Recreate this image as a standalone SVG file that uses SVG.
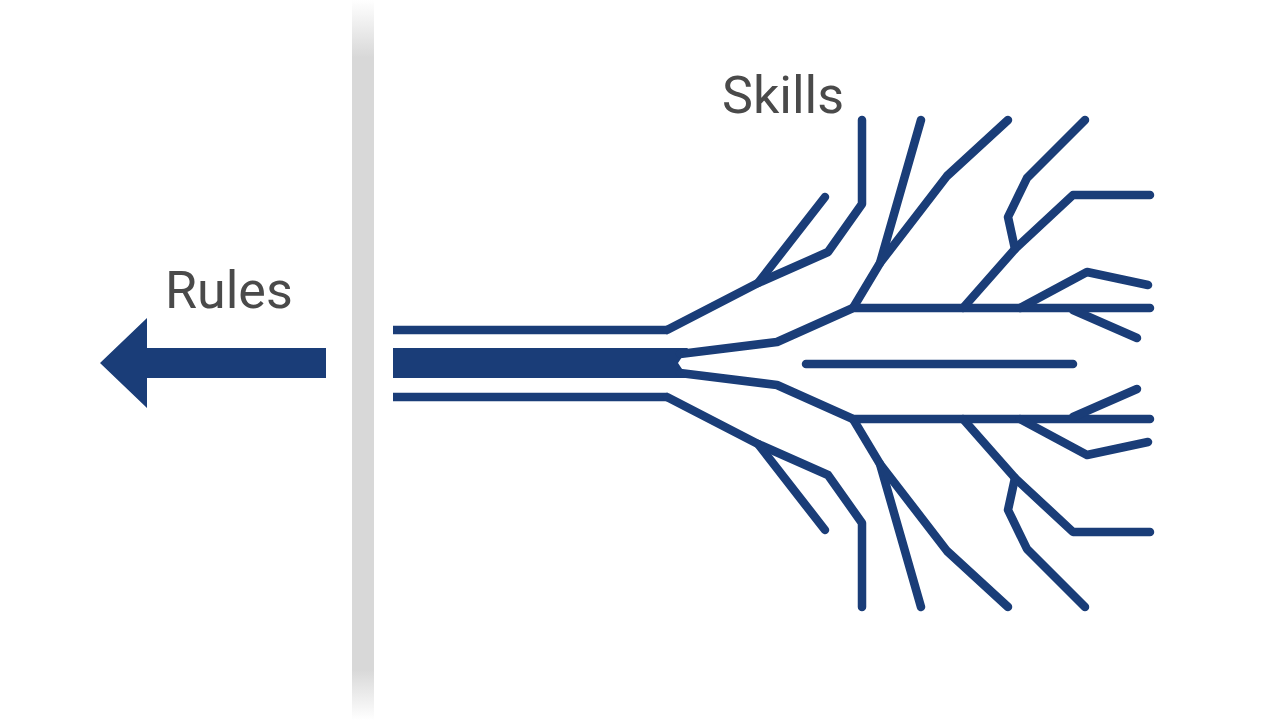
<svg xmlns="http://www.w3.org/2000/svg" width="1280" height="720" viewBox="0 0 1280 720">
  <defs>
    <linearGradient id="barFade" x1="0" y1="0" x2="0" y2="1">
      <stop offset="0" stop-color="#d8d8d8" stop-opacity="0"/>
      <stop offset="0.08" stop-color="#d8d8d8" stop-opacity="1"/>
      <stop offset="0.93" stop-color="#d8d8d8" stop-opacity="1"/>
      <stop offset="1" stop-color="#d8d8d8" stop-opacity="0"/>
    </linearGradient>
    <g id="half">
      <line class="bar" x1="393" y1="330" x2="668" y2="330"/>
      <polyline points="667,330 758,283 828,252 862,204 862,120"/>
      <polyline points="758,283 825,197"/>
      <polyline points="680,354 777,342 853,308 1150,308"/>
      <polyline points="853,308 880,263 921,120"/>
      <polyline points="880,263 947,176 1008,120"/>
      <polyline points="963,308 1015,249 1073,195 1150,195"/>
      <polyline points="1015,249 1008,217 1027,178 1085,120"/>
      <polyline points="1020,308 1087,272 1148,285"/>
      <polyline points="1073,310 1137,338"/>
    </g>
  </defs>
  <style>
    .label { font-family: Roboto, "Liberation Sans", sans-serif; font-size: 52px; fill: #4a4a4a; }
    .navy { fill: #1a3d78; }
    .branch { fill: none; stroke: #1a3d78; stroke-width: 8.5; stroke-linecap: round; stroke-linejoin: round; }
    .bar { stroke-linecap: butt; }
  </style>
  <rect width="1280" height="720" fill="#ffffff"/>

  <g id="barrier">
    <rect x="352" y="0" width="22" height="720" fill="url(#barFade)"/>
  </g>

  <g id="rules">
    <text class="label" x="165" y="308">Rules</text>
    <polygon class="navy" points="100,363 147,318 147,348 326,348 326,378 147,378 147,408"/>
  </g>

  <g id="skills">
    <text class="label" x="722" y="113">Skills</text>
  </g>

  <g id="connectors">
    <polygon class="navy" points="393,348 688,348 678,363 688,378 393,378"/>
    <g class="branch">
      <use href="#half"/>
      <use href="#half" transform="translate(0,727) scale(1,-1)"/>
      <polyline points="806,364 1073,364"/>
    </g>
  </g>
</svg>
